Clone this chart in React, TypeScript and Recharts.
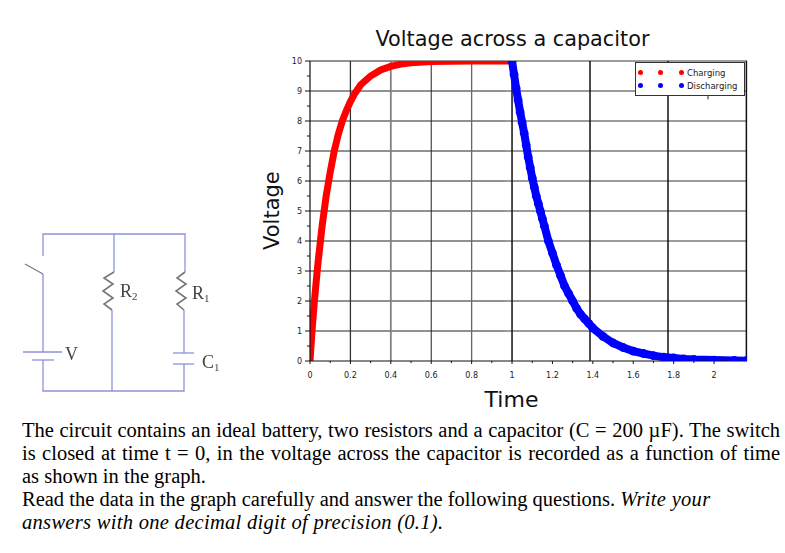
import React from 'react';
import { ComposedChart, Line, XAxis, YAxis, ReferenceLine, Legend } from 'recharts';

const chargeTime = [0, 0.01, 0.02, 0.03, 0.04, 0.05, 0.06, 0.07, 0.08, 0.09, 0.1, 0.12, 0.14, 0.16, 0.18, 0.2, 0.22, 0.25, 0.3, 0.35, 0.4, 0.45, 0.5, 0.6, 0.7, 0.8, 0.9, 1];
const chargeVolts = [0, 1.0, 1.85, 2.6, 3.3, 3.9, 4.5, 5.0, 5.5, 5.9, 6.3, 7.0, 7.55, 8.0, 8.35, 8.65, 8.9, 9.2, 9.5, 9.7, 9.82, 9.9, 9.94, 9.98, 9.99, 10, 10, 10];

const dischargeTime = [1, 1.01, 1.02, 1.03, 1.04, 1.05, 1.06, 1.07, 1.08, 1.09, 1.1, 1.11, 1.12, 1.13, 1.14, 1.15, 1.16, 1.18, 1.2, 1.22, 1.24, 1.26, 1.28, 1.3, 1.32, 1.34, 1.36, 1.38, 1.4, 1.45, 1.5, 1.55, 1.6, 1.65, 1.7, 1.75, 1.8, 1.85, 1.9, 2, 2.1, 2.16];
const dischargeVolts = [10, 9.55, 9.1, 8.7, 8.3, 7.95, 7.6, 7.2, 6.8, 6.45, 6.1, 5.8, 5.5, 5.25, 5.0, 4.75, 4.5, 4.0, 3.6, 3.2, 2.85, 2.5, 2.25, 2.0, 1.75, 1.55, 1.4, 1.25, 1.1, 0.82, 0.6, 0.45, 0.33, 0.25, 0.18, 0.13, 0.1, 0.07, 0.05, 0.03, 0.02, 0.01];

const xTicks = [0, 0.1, 0.2, 0.3, 0.4, 0.5, 0.6, 0.7, 0.8, 0.9, 1, 1.1, 1.2, 1.3, 1.4, 1.5, 1.6, 1.7, 1.8, 1.9, 2];
const yTicks = [0, 0.5, 1, 1.5, 2, 2.5, 3, 3.5, 4, 4.5, 5, 5.5, 6, 6.5, 7, 7.5, 8, 8.5, 9, 9.5, 10];
const hGrid = [1, 2, 3, 4, 5, 6, 7, 8, 9, 10];
const vGrid = [
  { t: 0.2, color: '#333', w: 1.3 },
  { t: 0.4, color: '#808080', w: 1.8 },
  { t: 0.6, color: '#222', w: 1 },
  { t: 0.8, color: '#666', w: 1.3 },
  { t: 1, color: '#111', w: 1.5 },
  { t: 1.386, color: '#111', w: 1.5 },
  { t: 1.772, color: '#111', w: 1.5 },
  { t: 2.16, color: '#111', w: 1.5 },
];

const chargeData = chargeTime.map((t, i) => ({ t, v: chargeVolts[i] }));
const dischargeData = dischargeTime.map((t, i) => ({ t, v: dischargeVolts[i] }));

const paragraph = [
  { text: 'The circuit contains an ideal battery, two resistors and a capacitor (C = 200 µF). The switch', top: 419, justify: true },
  { text: 'is closed at time t = 0, in the voltage across the capacitor is recorded as a function of time', top: 442, justify: true },
  { text: 'as shown in the graph.', top: 465, justify: false },
  { text: 'Read the data in the graph carefully and answer the following questions. ', italic: 'Write your', top: 488, justify: false },
  { text: '', italic: 'answers with one decimal digit of precision (0.1).', top: 511, justify: false },
];

const XTick = ({ x, y, payload }: any) => {
  const v = payload.value;
  const major = Math.abs(v * 5 - Math.round(v * 5)) < 1e-6;
  return (
    <g>
      <line x1={x} x2={x} y1={y} y2={y + (major ? 3 : 2)} stroke="#111" />
      {major && (
        <text x={x} y={y + 17} textAnchor="middle" fontSize={8} fontFamily="DejaVu Sans" fill="#222">
          {v}
        </text>
      )}
    </g>
  );
};

const YTick = ({ y, payload }: any) => {
  const v = payload.value;
  const major = Number.isInteger(v);
  return (
    <g>
      <line x1={310} x2={major ? 305 : 307} y1={y} y2={y} stroke="#111" />
      {major && (
        <text x={302} y={y + 3} textAnchor="end" fontSize={8} fontFamily="DejaVu Sans" fill="#222">
          {v}
        </text>
      )}
    </g>
  );
};

const LegendBox = ({ payload }: any) => (
  <div style={{ width: 108, height: 32, background: '#fff', border: '1px solid #333', position: 'relative', fontFamily: 'DejaVu Sans', fontSize: 8.5, color: '#222' }}>
    {(payload || []).map((p: any, i: number) => (
      <div key={p.value} style={{ position: 'absolute', top: 4 + i * 13, left: 0, height: 13, lineHeight: '12px', whiteSpace: 'nowrap' }}>
        {[2, 22, 43].map((dx) => (
          <span key={dx} style={{ position: 'absolute', left: dx, top: 3, width: 5, height: 5, borderRadius: 3, background: p.color }} />
        ))}
        <span style={{ position: 'absolute', left: 51, top: 0 }}>{p.value}</span>
      </div>
    ))}
  </div>
);

// hand drawn circuit from the scan, not part of the chart data
const Circuit = () => (
  <svg width={240} height={180} viewBox="0 225 240 180" style={{ position: 'absolute', left: 0, top: 225, filter: 'blur(0.45px)' }}>
    <g fill="none" stroke="#8d93d8" strokeWidth={1.3}>
      <path d="M43 256V234H185V272" />
      <path d="M114 234V272" />
      <path d="M43 274V352" />
      <path d="M23 352H62" />
      <path d="M32 360H54" />
      <path d="M43 360V391H184V364" />
      <path d="M112 391V310" />
      <path d="M184 310V353" />
      <path d="M173 353H194" />
      <path d="M173 364H194" />
    </g>
    <path d="M25 264L43 274" fill="none" stroke="#777" strokeWidth={1.1} />
    <g fill="none" stroke="#777" strokeWidth={1.6}>
      <path d="M114 272L104 278L113 284L103 291L113 298L104 304L112 310" />
      <path d="M185 272L177 278L186 284L176 291L186 298L177 304L184 310" />
    </g>
    <g fontFamily="Liberation Serif" fontSize={18} fill="#444">
      <text x={120} y={297}>R<tspan fontSize={11} dy={3}>2</tspan></text>
      <text x={192} y={299}>R<tspan fontSize={11} dy={3}>1</tspan></text>
      <text x={65} y={360}>V</text>
      <text x={202} y={368}>C<tspan fontSize={11} dy={3}>1</tspan></text>
    </g>
  </svg>
);

export default function App() {
  return (
    <div style={{ position: 'absolute', left: 0, top: 0, width: 785, height: 553, background: '#fff', overflow: 'hidden' }}>
      <Circuit />
      <ComposedChart width={785} height={553} margin={{ top: 61, right: 38, bottom: 0, left: 0 }} style={{ position: 'absolute', left: 0, top: 0 }}>
        <XAxis
          dataKey="t"
          type="number"
          domain={[0, 2.163]}
          allowDataOverflow
          ticks={xTicks}
          interval={0}
          height={192}
          tick={<XTick />}
          tickLine={false}
          tickSize={0}
          tickMargin={0}
          axisLine={{ stroke: '#111', strokeWidth: 1.2 }}
          label={{ value: 'Time', position: 'insideTop', offset: 30, dx: -17, fontSize: 22, fontFamily: 'DejaVu Sans', fill: '#111' }}
        />
        <YAxis
          dataKey="v"
          type="number"
          domain={[0, 10]}
          allowDataOverflow
          ticks={yTicks}
          interval={0}
          width={310}
          tick={<YTick />}
          tickLine={false}
          axisLine={{ stroke: '#111', strokeWidth: 1.2 }}
          label={{ value: 'Voltage', angle: -90, position: 'insideLeft', offset: 272, dy: 39, fontSize: 21, fontFamily: 'DejaVu Sans', fill: '#111' }}
        />
        {hGrid.map((v) => (
          <ReferenceLine key={`h${v}`} segment={[{ x: 0, y: v }, { x: 0.97, y: v }]} stroke="#222" strokeWidth={1} />
        ))}
        {hGrid.map((v) => (
          <ReferenceLine key={`g${v}`} segment={[{ x: 0.97, y: v }, { x: 2.163, y: v }]} stroke="#7a7a7a" strokeWidth={1.6} />
        ))}
        {vGrid.map((g) => (
          <ReferenceLine key={`v${g.t}`} x={g.t} stroke={g.color} strokeWidth={g.w} />
        ))}
        <ReferenceLine segment={[{ x: 1.97, y: 8.72 }, { x: 1.97, y: 8.85 }]} stroke="#222" strokeWidth={1} />
        <Line data={chargeData} dataKey="v" name="Charging" type="linear" stroke="#ff0000" strokeWidth={7} dot={false} isAnimationActive={false} />
        <Line data={dischargeData} dataKey="v" name="Discharging" type="linear" stroke="#0000ff" strokeWidth={8} dot={{ r: 4.4, fill: '#0000ff', stroke: 'none' }} isAnimationActive={false} />
        <Legend layout="vertical" align="center" verticalAlign="middle" content={<LegendBox />} wrapperStyle={{ left: 635, top: 62, width: 110, height: 34 }} />
      </ComposedChart>
      <div style={{ position: 'absolute', left: 0, top: 25, width: 1025, textAlign: 'center', fontFamily: 'DejaVu Sans', fontSize: 20.8, lineHeight: '28px', color: '#111', whiteSpace: 'nowrap' }}>
        Voltage across a capacitor
      </div>
      {paragraph.map((l) => (
        <div
          key={l.top}
          style={{
            position: 'absolute',
            left: 22,
            top: l.top,
            width: 758,
            fontFamily: 'Liberation Serif',
            fontSize: 20.5,
            lineHeight: '23px',
            color: '#000',
            whiteSpace: l.justify ? 'normal' : 'nowrap',
            textAlign: l.justify ? 'justify' : 'left',
            textAlignLast: l.justify ? 'justify' : 'left',
          }}
        >
          {l.text}
          {l.italic && <i style={{ letterSpacing: 0.3 }}>{l.italic}</i>}
        </div>
      ))}
    </div>
  );
}
